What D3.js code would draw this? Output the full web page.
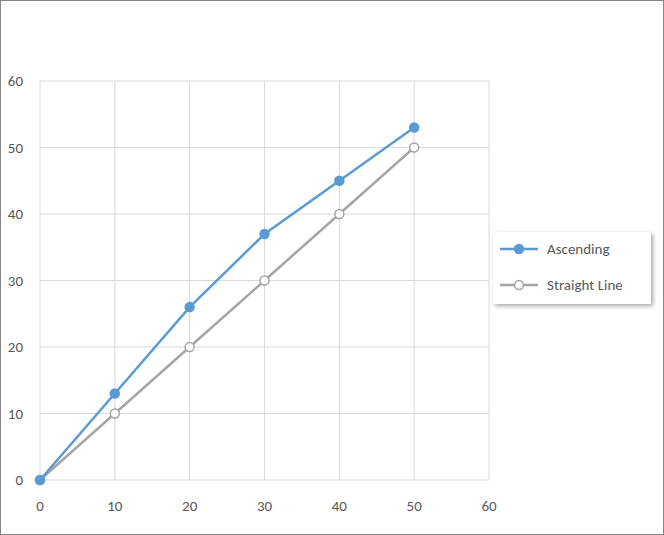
<!DOCTYPE html>
<html><head><meta charset="utf-8">
<script src="https://cdn.jsdelivr.net/npm/d3@7"></script>
<style>body{margin:0;background:#fff}svg{display:block}</style>
</head><body>
<script>
const xValues=[0,10,20,30,40,50];
const ascending=[0,13,26,37,45,53];
const straight=[0,10,20,30,40,50];
const ticks=[0,10,20,30,40,50,60];
const seriesNames=["Ascending","Straight Line"];
const W=664,H=535;
const svg=d3.select("body").append("svg").attr("width",W).attr("height",H);
const defs=svg.append("defs");
const f=defs.append("filter").attr("id","sh").attr("x","-20%").attr("y","-20%").attr("width","150%").attr("height","150%");
f.append("feDropShadow").attr("dx",2).attr("dy",2).attr("stdDeviation",2).attr("flood-color","#000").attr("flood-opacity",0.35);
svg.append("rect").attr("x",0.5).attr("y",0.5).attr("width",W-1).attr("height",H-1).attr("fill","#fff").attr("stroke","#868686");
const x=d3.scaleLinear().domain([0,60]).range([40,489]);
const y=d3.scaleLinear().domain([0,60]).range([480,81]);
const g=svg.append("g");
ticks.forEach(t=>{
 g.append("line").attr("x1",x(t)).attr("x2",x(t)).attr("y1",y(0)).attr("y2",y(60)).attr("stroke","#d9d9d9");
 g.append("line").attr("x1",x(0)).attr("x2",x(60)).attr("y1",y(t)).attr("y2",y(t)).attr("stroke","#d9d9d9");
 g.append("text").attr("x",x(t)).attr("y",y(0)+31).attr("text-anchor","middle").attr("font-family","Calibri, Carlito, 'Liberation Sans', sans-serif").attr("font-size",15).attr("fill","#595959").text(t);
 g.append("text").attr("x",x(0)-17).attr("y",y(t)+5).attr("text-anchor","end").attr("font-family","Calibri, Carlito, 'Liberation Sans', sans-serif").attr("font-size",15).attr("fill","#595959").text(t);
});
const line=d3.line().x((d,i)=>x(xValues[i])).y(d=>y(d));
function series(data,col,filled){
 svg.append("path").attr("d",line(data)).attr("fill","none").attr("stroke",col).attr("stroke-width",2.5);
 data.forEach((d,i)=>svg.append("circle").attr("cx",x(xValues[i])).attr("cy",y(d)).attr("r",4.5)
  .attr("fill",filled?col:"#fff").attr("stroke",col).attr("stroke-width",1.5));
}
series(straight,"#a5a5a5",false);
series(ascending,"#5b9bd5",true);
const lg=svg.append("g").attr("transform","translate(493,232)");
lg.append("rect").attr("width",158).attr("height",72).attr("fill","#fff").attr("filter","url(#sh)");
[["#5b9bd5",true],["#a5a5a5",false]].forEach((c,i)=>{
 const yy=17+i*36;
 lg.append("line").attr("x1",7).attr("x2",45).attr("y1",yy).attr("y2",yy).attr("stroke",c[0]).attr("stroke-width",2.5);
 lg.append("circle").attr("cx",26).attr("cy",yy).attr("r",4.5).attr("fill",c[1]?c[0]:"#fff").attr("stroke",c[0]).attr("stroke-width",1.5);
 lg.append("text").attr("x",54).attr("y",yy+5).attr("font-family","Calibri, Carlito, 'Liberation Sans', sans-serif").attr("font-size",15).attr("fill","#595959").text(seriesNames[i]);
});
</script>
</body></html>
